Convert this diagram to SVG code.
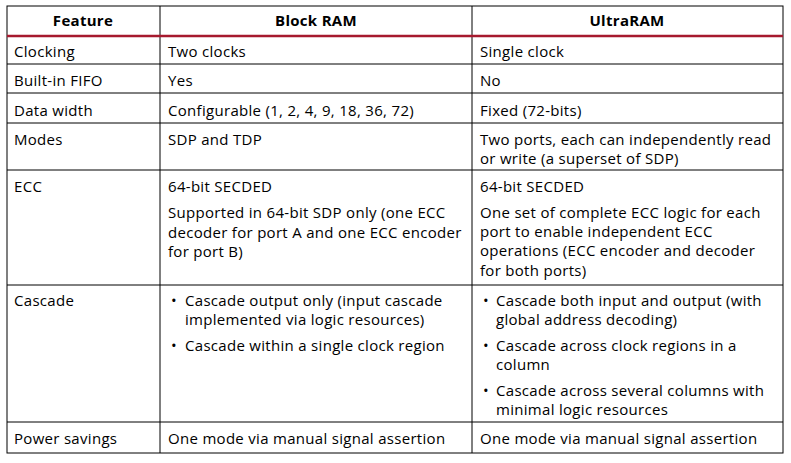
<svg xmlns="http://www.w3.org/2000/svg" width="791" height="463" viewBox="0 0 791 463">
<style>
text{font-family:"Open Sans","Noto Sans",sans-serif;font-size:15px;letter-spacing:0.3px;fill:#000}
.h{font-weight:bold;text-anchor:middle}
.g line{stroke:#000;stroke-width:1}
</style>
<rect width="791" height="463" fill="#fff"/>
<g class="g" id="grid">
<rect x="7" y="6" width="776" height="447" fill="none" stroke="#000"/>
<line x1="160" y1="6" x2="160" y2="453"/>
<line x1="472" y1="6" x2="472" y2="453"/>
<line x1="7" y1="64" x2="783" y2="64"/>
<line x1="7" y1="93" x2="783" y2="93"/>
<line x1="7" y1="123" x2="783" y2="123"/>
<line x1="7" y1="170" x2="783" y2="170"/>
<line x1="7" y1="285" x2="783" y2="285"/>
<line x1="7" y1="422" x2="783" y2="422"/>
</g>
<line x1="7" y1="36" x2="783" y2="36" stroke="#A6192E" stroke-width="2.5"/>
<g id="header">
<text class="h" x="83" y="26">Feature</text>
<text class="h" x="316" y="26">Block RAM</text>
<text class="h" x="627" y="26">UltraRAM</text>
</g>
<g id="col1">
<text x="14" y="57">Clocking</text>
<text x="14" y="86">Built-in FIFO</text>
<text x="14" y="116">Data width</text>
<text x="14" y="145">Modes</text>
<text x="14" y="192">ECC</text>
<text x="14" y="306">Cascade</text>
<text x="14" y="444">Power savings</text>
</g>
<g id="col2">
<text x="168" y="57">Two clocks</text>
<text x="168" y="86">Yes</text>
<text x="168" y="116">Configurable (1, 2, 4, 9, 18, 36, 72)</text>
<text x="168" y="145">SDP and TDP</text>
<text x="168" y="192">64-bit SECDED</text>
<text x="168" y="218">Supported in 64-bit SDP only (one ECC</text>
<text x="168" y="238">decoder for port A and one ECC encoder</text>
<text x="168" y="257">for port B)</text>
<text x="171" y="306">•</text><text x="185" y="306">Cascade output only (input cascade</text>
<text x="185" y="325">implemented via logic resources)</text>
<text x="171" y="351">•</text><text x="185" y="351">Cascade within a single clock region</text>
<text x="168" y="444">One mode via manual signal assertion</text>
</g>
<g id="col3">
<text x="480" y="57">Single clock</text>
<text x="480" y="86">No</text>
<text x="480" y="116">Fixed (72-bits)</text>
<text x="480" y="145">Two ports, each can independently read</text>
<text x="480" y="164">or write (a superset of SDP)</text>
<text x="480" y="192">64-bit SECDED</text>
<text x="480" y="218">One set of complete ECC logic for each</text>
<text x="480" y="237">port to enable independent ECC</text>
<text x="480" y="256">operations (ECC encoder and decoder</text>
<text x="480" y="276">for both ports)</text>
<text x="483" y="306">•</text><text x="496" y="306">Cascade both input and output (with</text>
<text x="496" y="325">global address decoding)</text>
<text x="483" y="351">•</text><text x="496" y="351">Cascade across clock regions in a</text>
<text x="496" y="370">column</text>
<text x="483" y="396">•</text><text x="496" y="396">Cascade across several columns with</text>
<text x="496" y="415">minimal logic resources</text>
<text x="480" y="444">One mode via manual signal assertion</text>
</g>
</svg>
